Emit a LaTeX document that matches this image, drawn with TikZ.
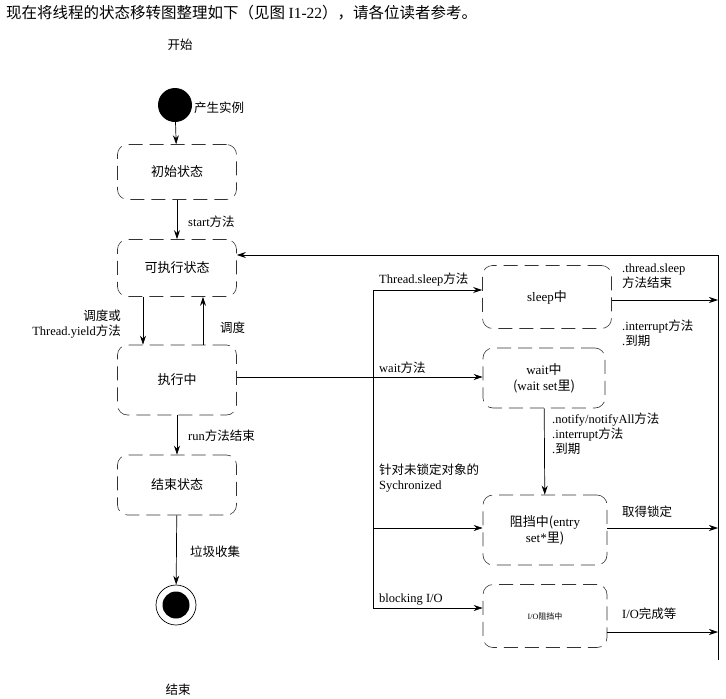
\documentclass[tikz,border=0pt]{standalone}
\usepackage{fontspec}
\setmainfont{Noto Sans CJK SC}
\newfontfamily\lat{Liberation Serif}
\usetikzlibrary{arrows.meta}
\begin{document}
\begin{tikzpicture}[x=1pt,y=-1pt,
  st/.style={draw=black!80,line width=0.6pt,dash pattern=on 14pt off 7pt,rounded corners=10pt,font=\fontsize{13}{16}\selectfont,align=center,inner sep=0pt},
  lb/.style={font=\fontsize{12.5}{15}\selectfont,align=left,inner sep=0pt},
  ar/.style={-{Stealth[length=9pt,width=6pt]},line width=0.7pt},
  ln/.style={line width=0.7pt}]
\useasboundingbox (0,0) rectangle (726,699);
\node[lb,anchor=west,font=\fontsize{15.5}{17}\selectfont] (title) at (6,13) {现在将线程的状态移转图整理如下（见图 {\lat I1-22}），请各位读者参考。};
\node[lb] (tstart) at (180,45) {开始};
\node[circle,fill=black,minimum size=34pt,inner sep=0pt] (start) at (175,105) {};
\node[st,minimum width=119pt,minimum height=55pt] (init) at (177,172) {初始状态};
\node[st,minimum width=119pt,minimum height=57pt] (run) at (177,268) {可执行状态};
\node[st,minimum width=119pt,minimum height=70pt] (exec) at (177,380) {执行中};
\node[st,minimum width=119pt,minimum height=60pt] (endst) at (177,485) {结束状态};
\node[circle,draw,line width=0.7pt,minimum size=40pt,inner sep=0pt] (end) at (176,605) {};
\node[circle,fill=black,minimum size=27pt,inner sep=0pt] (endin) at (176,605) {};
\node[lb] (tend) at (178,690) {结束};
\node[st,minimum width=129pt,minimum height=63pt] (sleep) at (547,297) {{\lat sleep}中};
\node[st,minimum width=122pt,minimum height=60pt] (wait) at (544,378) {{\lat wait}中\\({\lat wait set}里)};
\node[st,minimum width=124pt,minimum height=70pt] (block) at (545,530) {阻挡中({\lat entry}\\{\lat set*}里)};
\node[st,minimum width=124pt,minimum height=63pt] (io) at (545,616) {\fontsize{8}{9}\selectfont {\lat I/O}阻挡中};
% left column arrows
\draw[ar] (start) -- (init);
\node[lb,anchor=west] (l1) at (194,108) {产生实例};
\draw[ar] (init) -- (run);
\node[lb,anchor=west] (l2) at (188,222) {{\lat start}方法};
\draw[ar] ([xshift=-34pt]run.south) -- ([xshift=-34pt]exec.north);
\draw[ar] ([xshift=26pt]exec.north) -- ([xshift=26pt]run.south);
\node[lb,anchor=east,align=right] (l3) at (121,324) {调度或\\{\lat Thread.yield}方法};
\node[lb,anchor=west] (l4) at (220,328) {调度};
\draw[ar] (exec) -- (endst);
\node[lb,anchor=west] (l5) at (188,436) {{\lat run}方法结束};
\draw[ar] (endst) -- (end);
\node[lb,anchor=west] (l6) at (190,552) {垃圾收集};
% right side
\coordinate (vt) at (373,290);
\coordinate (vb) at (373,608);
\draw[ln] (vt) -- (vb);
\draw[ar] (vt) -- (sleep.west |- vt);
\draw[ar] (exec.east |- 0,377) -- (wait.west |- 0,377);
\draw[ar] (373,528) -- (block.west |- 0,528);
\draw[ar] (vb) -- (io.west |- vb);
\node[lb,anchor=west] (r1) at (379,280) {{\lat Thread.sleep}方法};
\node[lb,anchor=west] (r2) at (379,368) {{\lat wait}方法};
\node[lb,anchor=west] (r3) at (379,478) {针对未锁定对象的\\{\lat Sychronized}};
\node[lb,anchor=west] (r4) at (379,600) {{\lat blocking I/O}};
\draw[ar] (wait) -- (block);
\node[lb,anchor=north west] (r5) at (552,413) {{\lat .notify/notifyAll}方法\\{\lat .interrupt}方法\\{\lat .}到期};
\coordinate (rt) at (718,255);
\coordinate (rb) at (718,660);
\draw[ln] (rb) -- (rt);
\draw[ar] (rt) -- (run.east |- rt);
\draw[ar] (sleep.east |- 0,300) -- (718,300);
\node[lb,anchor=west] (s1) at (622,276) {{\lat .thread.sleep}\\方法结束};
\node[lb,anchor=west] (s2) at (622,333) {{\lat .interrupt}方法\\{\lat .}到期};
\draw[ar] (block.east |- 0,528) -- (718,528);
\node[lb,anchor=west] (b1) at (622,512) {取得锁定};
\draw[ar] (io.east |- 0,632) -- (718,632);
\node[lb,anchor=west] (i1) at (622,614) {{\lat I/O}完成等};
\end{tikzpicture}
\end{document}
